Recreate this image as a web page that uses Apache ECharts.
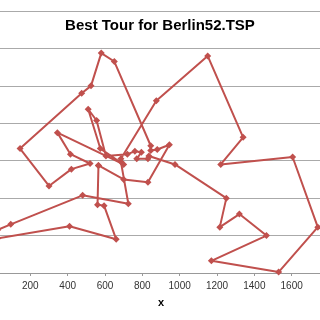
<!DOCTYPE html>
<html><head><meta charset="utf-8">
<script src="https://cdn.jsdelivr.net/npm/echarts@6/dist/echarts.min.js"></script>
<style>html,body{margin:0;padding:0;background:#fff}#c{width:320px;height:320px}</style>
</head><body><div id="c"></div>
<script>
// City coordinates (Berlin52), indexed by city number - 1
const cityX = [565,25,345,945,845,880,25,525,580,650,1605,1220,1465,1530,845,725,145,415,510,560,300,520,480,835,975,1215,1320,1250,660,410,420,575,1150,700,685,685,770,795,720,760,475,95,875,700,555,830,1170,830,605,595,1340,1740];
const cityY = [575,185,750,685,655,660,230,1000,1175,1130,620,580,200,5,680,370,665,635,875,365,465,585,415,625,580,245,315,400,180,250,555,665,1160,580,595,610,610,645,635,650,960,260,920,500,815,485,65,610,625,360,725,245];
// Tour order (city numbers)
const tour = [1,20,50,29,30,2,7,42,23,16,35,36,43,33,51,12,11,52,14,47,13,27,26,28,25,24,48,37,38,40,39,49,45,19,32,34,3,18,22,31,21,17,41,8,9,10,15,5,6,4,46,44,1];
const xTicks = [200,400,600,800,1000,1200,1400,1600];

const data = tour.map(c => [cityX[c-1], cityY[c-1]]);
const chart = echarts.init(document.getElementById('c'));
chart.setOption({
  animation:false,
  title:{text:'Best Tour for Berlin52.TSP', left:'center', top:13,
    textStyle:{fontFamily:'Liberation Sans', fontWeight:'bold', fontSize:15, color:'#000'}},
  grid:{left:-7, right:-9, top:11, bottom:47, containLabel:false, outerBoundsMode:'none'},
  xAxis:{type:'value', min:0, max:1800, interval:200, name:'x', nameLocation:'middle', nameGap:24,
    nameTextStyle:{fontFamily:'Liberation Sans', fontWeight:'bold', fontSize:11, color:'#000'},
    axisLine:{show:true, onZero:false, lineStyle:{color:'#999'}},
    axisTick:{show:true, length:3, lineStyle:{color:'#999'}},
    splitLine:{show:false},
    axisLabel:{fontFamily:'Liberation Sans', fontSize:10, color:'#333', margin:8,
      formatter: v => xTicks.indexOf(v) >= 0 ? String(v) : ''}},
  yAxis:{type:'value', min:0, max:1400, interval:200,
    axisLine:{show:false}, axisTick:{show:false}, axisLabel:{show:false},
    splitLine:{lineStyle:{color:'#aaa', width:1}}},
  series:[{type:'line', data:data, symbol:'diamond', symbolSize:7,
    itemStyle:{color:'#c0504d'}, lineStyle:{color:'#c0504d', width:2}}]
});
</script></body></html>
